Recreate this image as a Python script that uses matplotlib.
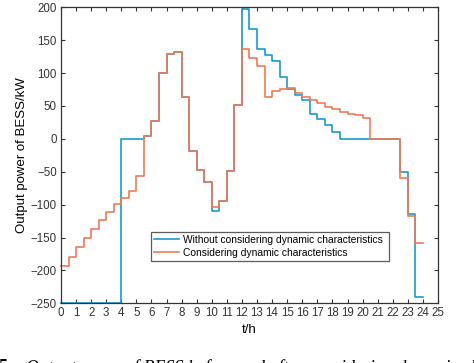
import numpy as np
import matplotlib
matplotlib.use("Agg")
import matplotlib.pyplot as plt

plt.rcParams['font.family'] = ['Liberation Sans', 'DejaVu Sans']

# half-hour steps, value holds from t to t+0.5
t = np.arange(0, 24.5, 0.5)

without_dyn = [-250, -250, -250, -250, -250, -250, -250, -250,
               0, 0, 0, 5, 27, 100, 129, 132,
               63, -19, -48, -66, -110, -94, -49, 52,
               198, 167, 137, 128, 119, 94, 75, 67,
               59, 38, 30, 21, 11, 0, 0, 0,
               0, 0, 0, 0, 0, -50, -115, -240]

with_dyn = [-193, -180, -165, -151, -137, -123, -111, -99,
            -90, -80, -56, 5, 27, 100, 129, 132,
            63, -19, -48, -66, -104, -94, -49, 52,
            137, 123, 110, 63, 72, 75, 77, 70,
            64, 59, 54, 48, 45, 41, 38, 36,
            32, 0, 0, 0, 0, -59, -117, -158]

labels = ["Without considering dynamic characteristics",
          "Considering dynamic characteristics"]

# repeat the last value so the final step reaches t=24
y1 = without_dyn + [without_dyn[-1]]
y2 = with_dyn + [with_dyn[-1]]

fig = plt.figure(figsize=(4.74, 3.63), dpi=100)
ax = fig.add_axes([0.1287, 0.1645, 0.7953, 0.8155])

ax.plot(t, y1, drawstyle='steps-post', color='#1a9bc9', lw=1.2, label=labels[0], clip_on=False)
ax.plot(t, y2, drawstyle='steps-post', color='#ee7b58', lw=1.2, label=labels[1], clip_on=False)

ax.set_xlim(0, 25)
ax.set_ylim(-250, 200)
ax.set_xticks(range(0, 26))
ax.set_yticks(range(-250, 201, 50))
ax.tick_params(direction='in', length=3, width=0.8, top=True, right=True,
               labelsize=8.3, colors='#333333', pad=3)
for s in ax.spines.values():
    s.set_linewidth(0.9)
    s.set_color('#333333')

ax.set_xlabel("t/h", fontsize=9.5, labelpad=3)
ax.set_ylabel("Output power of BESS/kW", fontsize=9.5, labelpad=2)

leg = ax.legend(loc='lower left', bbox_to_anchor=(0.239, 0.144, 0.631, 0.106), mode='expand',
                fontsize=7.4, frameon=True, fancybox=False, borderaxespad=0,
                handlelength=2.4, handletextpad=0.4, borderpad=0.3, labelspacing=0.25)
leg.get_frame().set_edgecolor('#333333')
leg.get_frame().set_linewidth(0.9)

# figure caption, cut off at the bottom edge like the source
fig.text(-0.004, 0.012, "5.", fontsize=13, fontweight='bold', family='Liberation Serif', va='top')
fig.text(0.055, 0.012, "Output curve of BESS before and after considering dynamic characteristics",
         fontsize=13, style='italic', family='Liberation Serif', va='top')

fig.savefig("out.png", dpi=100)
